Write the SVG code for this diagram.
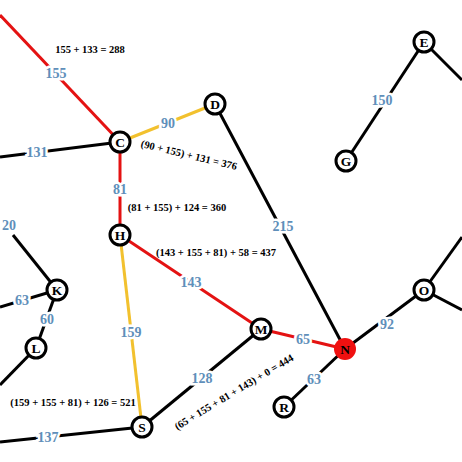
<svg xmlns="http://www.w3.org/2000/svg" width="462" height="462" viewBox="0 0 462 462">
<style>
.e{fill:none;stroke-width:3;stroke-linecap:butt}
.k{stroke:#000}
.r{stroke:#e41212}
.y{stroke:#f2c12e}
.w{font-family:"Liberation Serif",serif;font-weight:bold;font-size:14px;fill:#5f8fba;text-anchor:middle;dominant-baseline:central;stroke:#fff;stroke-width:5;paint-order:stroke}
.s{font-family:"Liberation Serif",serif;font-weight:bold;font-size:10.5px;fill:#000;text-anchor:middle;dominant-baseline:central}
.n circle{fill:#fff;stroke:#000;stroke-width:3}
.n text{font-family:"Liberation Serif",serif;font-weight:bold;font-size:13.5px;fill:#000;text-anchor:middle;dominant-baseline:central}
</style>
<rect width="462" height="462" fill="#fff"/>
<g id="connectors">
<line class="e r" x1="0" y1="15" x2="120" y2="142"/>
<line class="e k" x1="0" y1="157" x2="120" y2="142"/>
<line class="e y" x1="120" y1="142" x2="215" y2="104"/>
<line class="e r" x1="120" y1="142" x2="120" y2="235"/>
<line class="e k" x1="215" y1="104" x2="345" y2="349"/>
<line class="e k" x1="424" y1="42" x2="346" y2="161"/>
<line class="e k" x1="424" y1="42" x2="462" y2="80"/>
<line class="e r" x1="120" y1="235" x2="261" y2="329"/>
<line class="e y" x1="120" y1="235" x2="142" y2="427"/>
<line class="e r" x1="261" y1="329" x2="345" y2="349"/>
<line class="e k" x1="261" y1="329" x2="142" y2="427"/>
<line class="e k" x1="345" y1="349" x2="424" y2="290"/>
<line class="e k" x1="345" y1="349" x2="284" y2="407"/>
<line class="e k" x1="424" y1="290" x2="462" y2="237"/>
<line class="e k" x1="424" y1="290" x2="462" y2="310"/>
<line class="e k" x1="142" y1="427" x2="0" y2="442"/>
<line class="e k" x1="13" y1="235" x2="57" y2="290"/>
<line class="e k" x1="0" y1="307" x2="57" y2="290"/>
<line class="e k" x1="57" y1="290" x2="36" y2="348"/>
<line class="e k" x1="36" y1="348" x2="0" y2="385"/>
<text class="w" x="56" y="73">155</text>
<text class="w" x="37" y="152">131</text>
<text class="w" x="168" y="123">90</text>
<text class="w" x="120" y="189">81</text>
<text class="w" x="283" y="226">215</text>
<text class="w" x="382" y="100">150</text>
<text class="w" x="191" y="282">143</text>
<text class="w" x="131" y="332">159</text>
<text class="w" x="303" y="339">65</text>
<text class="w" x="202" y="378">128</text>
<text class="w" x="387" y="324">92</text>
<text class="w" x="314" y="379">63</text>
<text class="w" x="48" y="437">137</text>
<text class="w" x="22" y="300">63</text>
<text class="w" x="47" y="319">60</text>
<text class="w" x="9" y="225">20</text>
<text class="s" x="90" y="49">155 + 133 = 288</text>
<text class="s" x="189" y="155" transform="rotate(13.6 189 155)">(90 + 155) + 131 = 376</text>
<text class="s" x="177" y="207">(81 + 155) + 124 = 360</text>
<text class="s" x="216" y="252">(143 + 155 + 81) + 58 = 437</text>
<text class="s" x="73" y="402">(159 + 155 + 81) + 126 = 521</text>
<text class="s" x="234" y="392" transform="rotate(-31 234 392)">(65 + 155 + 81 + 143) + 0 = 444</text>
</g>
<g id="C" class="n"><circle cx="120" cy="142" r="10"/><text x="120" y="142">C</text></g>
<g id="D" class="n"><circle cx="215" cy="104" r="10"/><text x="215" y="104">D</text></g>
<g id="E" class="n"><circle cx="424" cy="42" r="10"/><text x="424" y="42">E</text></g>
<g id="G" class="n"><circle cx="346" cy="161" r="10"/><text x="346" y="161">G</text></g>
<g id="H" class="n"><circle cx="120" cy="235" r="10"/><text x="120" y="235">H</text></g>
<g id="K" class="n"><circle cx="57" cy="290" r="10"/><text x="57" y="290">K</text></g>
<g id="L" class="n"><circle cx="36" cy="348" r="10"/><text x="36" y="348">L</text></g>
<g id="M" class="n"><circle cx="261" cy="329" r="10"/><text x="261" y="329">M</text></g>
<g id="N" class="n"><circle cx="345" cy="349" r="11" style="fill:#f01010;stroke:none"/><text x="345" y="349">N</text></g>
<g id="O" class="n"><circle cx="424" cy="290" r="10"/><text x="424" y="290">O</text></g>
<g id="R" class="n"><circle cx="284" cy="407" r="10"/><text x="284" y="407">R</text></g>
<g id="S" class="n"><circle cx="142" cy="427" r="10"/><text x="142" y="427">S</text></g>
</svg>
